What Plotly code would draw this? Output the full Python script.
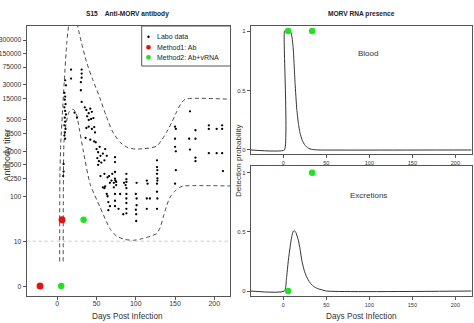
import numpy as np
import plotly.graph_objects as go

# ---- Anti-MORV antibody panel -------------------------------------------
# Laboratory titers (log10 of titer) by day post infection
labo_days = [
    9, 10, 9.5, 10.5, 9, 10, 11, 9.5, 10, 9, 10.5, 9.5, 9, 10, 10, 11, 8, 8, 7.5,
    17.5, 17.5, 22, 25,
    31, 31, 31, 30, 30, 31,
    35, 37, 40, 42, 44, 38, 43, 46, 40,
    37, 40, 44, 47, 36, 42, 47,
    48, 49, 50, 52, 54, 55,
    51, 53, 52, 56, 60, 63, 58, 61,
    55, 60, 64, 58, 60, 61,
    65, 65, 63, 64, 67,
    66, 70, 69, 67, 72, 74, 75, 75, 72,
    73.5, 73.5, 73.5, 73.5, 73.5, 73.5, 73.5,
    78, 84, 80,
    85, 87, 88, 88, 88, 88, 88, 88, 88, 88, 88,
    100, 101, 101, 100, 100.5, 100.5, 101,
    114, 115, 114, 114, 118,
    127, 127, 127.5, 127, 127.5, 127.5, 127, 127, 127.5, 127,
    150, 151, 150, 150, 151, 150, 151,
    169, 168, 169, 176, 176, 176, 176,
    193, 193, 193, 203, 203, 210, 210, 210, 211,
]
labo_log10_titer = [
    4.30, 4.22, 4.15, 4.05, 3.98, 3.90, 3.82, 3.75, 3.66, 3.58, 3.50, 3.42, 3.35, 3.28, 4.58, 4.47, 2.72, 2.55, 2.45,
    4.82, 4.62, 3.86, 3.75,
    4.82, 4.73, 4.64, 4.54, 4.36, 4.10,
    3.98, 3.92, 3.85, 3.95, 3.88, 3.78, 3.72, 3.74, 3.70,
    3.52, 3.55, 3.50, 3.54, 3.30, 3.26, 3.22,
    3.42, 3.20, 3.05, 2.98, 3.10, 2.90,
    2.85, 2.78, 2.70, 2.75, 2.80, 2.90, 2.95, 3.05,
    2.45, 2.50, 2.42, 2.20, 2.18, 2.22,
    1.87, 1.69, 2.05, 2.00, 1.78,
    2.45, 2.50, 2.35, 2.30, 2.30, 2.35, 2.32, 2.25, 2.20,
    2.87, 2.76, 2.54, 2.39, 2.05, 1.90, 1.78,
    1.72, 1.60, 2.05,
    2.30, 2.25, 2.32, 2.50, 2.38, 2.18, 2.05, 1.95, 1.85, 1.72, 1.62,
    2.05, 1.95, 1.80, 1.70, 1.60, 1.45, 2.30,
    2.35, 2.28, 1.95, 1.72, 1.95,
    2.80, 2.65, 2.58, 2.50, 2.40, 2.35, 2.28, 2.10, 1.95, 1.72,
    3.55, 3.50, 3.28, 3.10, 3.00, 2.28, 2.58,
    3.89, 3.28, 3.04, 3.47, 3.28, 2.86, 2.78,
    3.58, 3.50, 2.96, 3.50, 2.96, 3.58, 3.50, 2.96, 2.56,
]

# Dashed envelope of the fitted antibody kinetics (log10 titer)
upper_days = [3, 3.3, 4.5, 7, 9, 12, 15, 18, 21, 24, 27, 31, 37, 45, 54, 62, 70, 80,
              90, 100, 110, 120, 127, 133, 139, 146, 152, 157, 163, 220]
upper_log10 = [0.55, 2.5, 3.2, 4.0, 4.6, 5.4, 5.9, 6.2, 6.2, 5.95, 5.7, 5.4, 5.0, 4.6, 4.2,
               3.8, 3.45, 3.2, 3.08, 3.05, 3.06, 3.08, 3.12, 3.25, 3.42, 3.65, 3.88, 4.05,
               4.16, 4.16]
lower_days = [7.5, 7.8, 8.5, 11, 15, 20, 24, 28, 33, 41.7, 54.4, 67, 75.6, 86, 97, 109,
              120, 126.6, 131, 135, 139.5, 143.6, 150, 156, 162, 220]
lower_log10 = [0.55, 2.5, 3.2, 3.6, 3.88, 3.94, 3.85, 3.5, 3.02, 2.28, 1.76, 1.28, 1.11,
               1.04, 1.02, 1.06, 1.12, 1.17, 1.3, 1.54, 1.8, 1.98, 2.12, 2.2, 2.23, 2.23]

# Serological classification results (titer; 0 = negative)
method1_days = [-22, 6]
method1_titer = [0, 30]
method2_days = [5, 33.5]
method2_titer = [0, 30]

titer_ticks = [0, 10, 100, 250, 500, 1000, 2500, 5000, 15000, 30000, 75000, 150000, 300000]
day_ticks = [0, 50, 100, 150, 200]

# ---- MORV RNA presence panels -------------------------------------------
blood_days = [-38, 1.2, 1.3, 5, 8.2, 10, 11.6, 13.6, 15.6, 17.5, 19.4, 22, 25, 29, 33, 40, 219]
blood_prob = [0, 0, 1, 1, 1, 0.95, 0.84, 0.56, 0.34, 0.22, 0.14, 0.08, 0.04, 0.015, 0.005, 0, 0]
excr_days = [-38, 1.2, 3.5, 5.8, 7.8, 9.7, 11.5, 12.8, 14.5, 17.4, 19.5, 21.4, 24, 27, 31, 35,
             40, 45, 50, 219]
excr_prob = [0, 0, 0.1, 0.26, 0.37, 0.46, 0.505, 0.51, 0.495, 0.43, 0.35, 0.26, 0.18, 0.12,
             0.07, 0.04, 0.02, 0.01, 0, 0]
blood_obs_days = [5.5, 33.5]
blood_obs = [1, 1]
excr_obs_days = [5.5, 33.5]
excr_obs = [0, 1]
prob_ticks = [0, 0.5, 1]

FONT = "Liberation Sans, Arial, sans-serif"
W, H = 474, 323
RED = "#e01515"
GREEN = "#22e022"
FRAME = "#555555"


def to_log(titers):
    # negative samples (titer 0) sit on the "0" row of the log axis
    return [np.log10(t) if t > 0 else 0.0 for t in titers]


fig = go.Figure()

# reference line at titer 10
fig.add_trace(go.Scatter(x=[-39, 220], y=[1, 1], mode="lines",
                         line=dict(color="#c8c8c8", width=1, dash="dot"),
                         xaxis="x", yaxis="y", hoverinfo="skip"))
for dd, vv in ((upper_days, upper_log10), (lower_days, lower_log10)):
    fig.add_trace(go.Scatter(x=dd, y=vv, mode="lines",
                             line=dict(color="#4a4a4a", width=1, dash="4px,3px",
                                       shape="spline", smoothing=0.6),
                             xaxis="x", yaxis="y", cliponaxis=True))
fig.add_trace(go.Scatter(x=labo_days, y=labo_log10_titer, mode="markers",
                         marker=dict(color="black", size=2.3), xaxis="x", yaxis="y"))
fig.add_trace(go.Scatter(x=method1_days, y=to_log(method1_titer), mode="markers",
                         marker=dict(color=RED, size=7), xaxis="x", yaxis="y"))
fig.add_trace(go.Scatter(x=method2_days, y=to_log(method2_titer), mode="markers",
                         marker=dict(color=GREEN, size=6.5), xaxis="x", yaxis="y"))

# blood
fig.add_trace(go.Scatter(x=blood_days, y=blood_prob, mode="lines",
                         line=dict(color="#333333", width=1, shape="spline", smoothing=0.3),
                         xaxis="x2", yaxis="y2"))
fig.add_trace(go.Scatter(x=blood_obs_days, y=blood_obs, mode="markers",
                         marker=dict(color=GREEN, size=6.5), xaxis="x2", yaxis="y2",
                         cliponaxis=False))
# excretions
fig.add_trace(go.Scatter(x=excr_days, y=excr_prob, mode="lines",
                         line=dict(color="#333333", width=1, shape="spline", smoothing=0.6),
                         xaxis="x3", yaxis="y3"))
fig.add_trace(go.Scatter(x=excr_obs_days, y=excr_obs, mode="markers",
                         marker=dict(color=GREEN, size=6.5), xaxis="x3", yaxis="y3",
                         cliponaxis=False))


def px_x(p):
    return p / W


def px_y(p):
    return 1 - p / H


axis_common = dict(showline=True, mirror=True, linecolor=FRAME, linewidth=1,
                   showgrid=False, zeroline=False, ticks="outside", ticklen=3,
                   tickcolor=FRAME, tickwidth=1)

fig.update_layout(
    width=W, height=H, margin=dict(l=0, r=0, t=0, b=0),
    paper_bgcolor="white", plot_bgcolor="white", showlegend=False,
    font=dict(family=FONT, color="#333333"),
    xaxis=dict(domain=[px_x(26.7), px_x(230)], range=[-39, 220], anchor="y",
               tickvals=day_ticks, tickfont=dict(size=7), ticklabelstandoff=-2,
               **axis_common),
    yaxis=dict(domain=[px_y(296), px_y(26)], range=[-0.22, 5.79], anchor="x",
               tickvals=to_log(titer_ticks), ticktext=[str(t) for t in titer_ticks],
               tickfont=dict(size=6.8), **axis_common),
    xaxis2=dict(domain=[px_x(250.7), px_x(471.7)], range=[-38, 219], anchor="y2",
                tickvals=day_ticks, tickfont=dict(size=5.5), **axis_common),
    yaxis2=dict(domain=[px_y(154), px_y(26)], range=[-0.034, 1.042], anchor="x2",
                tickvals=prob_ticks, ticktext=["0", "0.5", "1"],
                tickfont=dict(size=6), **axis_common),
    xaxis3=dict(domain=[px_x(250.7), px_x(471.7)], range=[-38, 219], anchor="y3",
                tickvals=day_ticks, tickfont=dict(size=5.5), **axis_common),
    yaxis3=dict(domain=[px_y(296), px_y(166)], range=[-0.042, 1.057], anchor="x3",
                tickvals=prob_ticks, ticktext=["0", "0.5", "1"],
                tickfont=dict(size=6), **axis_common),
)

ann = []


def paper_text(x, y, text, size, color="#222222", **kw):
    ann.append(dict(x=px_x(x), y=px_y(y), xref="paper", yref="paper", text=text,
                    showarrow=False, xanchor="center", yanchor="middle",
                    font=dict(size=size, family=FONT, color=color), **kw))


paper_text(128, 14, "<b>S15\u00a0\u00a0\u00a0 Anti-MORV antibody</b>", 6.6)
paper_text(361, 14, "<b>MORV RNA presence</b>", 6.6)
paper_text(128, 316, "Days Post Infection", 8.2, color="#333333")
paper_text(361, 316, "Days Post Infection", 8.2, color="#333333")
paper_text(6.5, 155, "Antibody titer", 9, color="#333333", textangle=-90)
paper_text(238, 161, "Detection probability", 8, color="#333333", textangle=-90)

ann.append(dict(x=98.5, y=0.815, xref="x2", yref="y2", text="Blood", showarrow=False,
                xanchor="center", yanchor="middle",
                font=dict(size=8, family=FONT, color="#333333")))
ann.append(dict(x=98.5, y=0.81, xref="x3", yref="y3", text="Excretions", showarrow=False,
                xanchor="center", yanchor="middle",
                font=dict(size=8, family=FONT, color="#333333")))

# legend box
shapes = [dict(type="rect", xref="paper", yref="paper", x0=px_x(141.7), x1=px_x(230.5),
               y0=px_y(66), y1=px_y(26), line=dict(color=FRAME, width=1),
               fillcolor="white", layer="above")]
legend_items = [("Labo data", "black", 1.2, 36.7),
                ("Method1: Ab", RED, 2.4, 47.3),
                ("Method2: Ab+vRNA", GREEN, 2.4, 57.3)]
for label, col, r, yy in legend_items:
    shapes.append(dict(type="circle", xref="paper", yref="paper",
                       x0=px_x(148.5 - r), x1=px_x(148.5 + r),
                       y0=px_y(yy + r), y1=px_y(yy - r),
                       fillcolor=col, line=dict(width=0), layer="above"))
    ann.append(dict(x=px_x(155), y=px_y(yy), xref="paper", yref="paper", text=label,
                    showarrow=False, xanchor="left", yanchor="middle",
                    font=dict(size=7, family=FONT, color="#222222")))

fig.update_layout(annotations=ann, shapes=shapes)
fig.write_html("out.html")
